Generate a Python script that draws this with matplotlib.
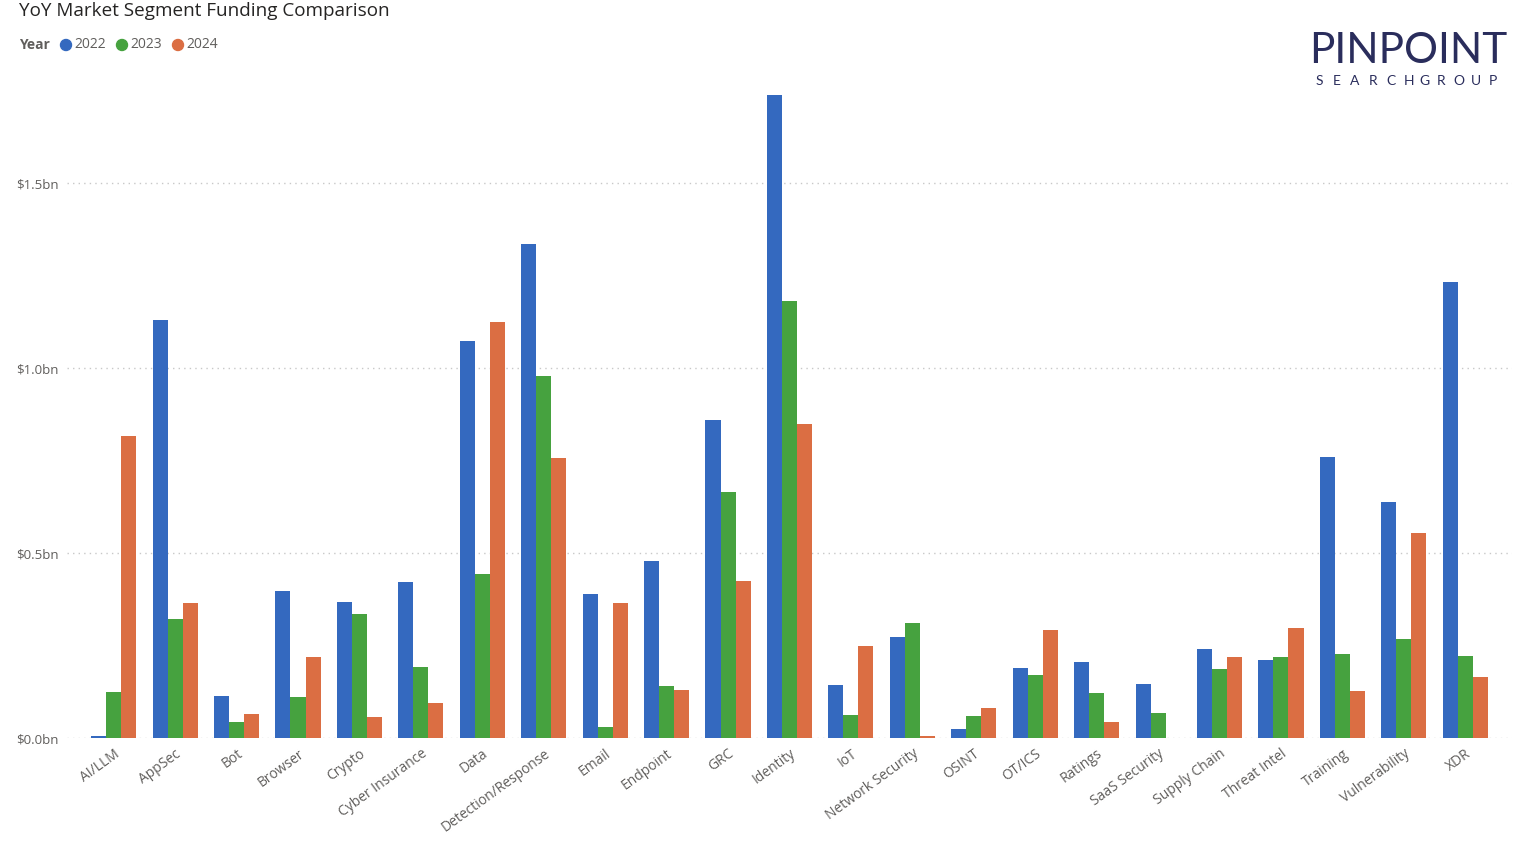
import numpy as np
import matplotlib
matplotlib.use('Agg')
import matplotlib.pyplot as plt

plt.rcParams['font.family'] = ['Open Sans', 'DejaVu Sans']

# 数据 (单位: 十亿美元)
segments = ['AI/LLM', 'AppSec', 'Bot', 'Browser', 'Crypto', 'Cyber Insurance', 'Data',
            'Detection/Response', 'Email', 'Endpoint', 'GRC', 'Identity', 'IoT',
            'Network Security', 'OSINT', 'OT/ICS', 'Ratings', 'SaaS Security',
            'Supply Chain', 'Threat Intel', 'Training', 'Vulnerability', 'XDR']
years = ['2022', '2023', '2024']
funding_2022 = [0.005, 1.130, 0.114, 0.397, 0.368, 0.422, 1.073, 1.335, 0.389, 0.478, 0.859,
                1.738, 0.143, 0.273, 0.024, 0.189, 0.205, 0.146, 0.241, 0.211, 0.759, 0.638, 1.232]
funding_2023 = [0.124, 0.322, 0.043, 0.111, 0.335, 0.192, 0.443, 0.978, 0.030, 0.141, 0.665,
                1.181, 0.062, 0.311, 0.059, 0.170, 0.122, 0.068, 0.186, 0.219, 0.227, 0.268, 0.222]
funding_2024 = [0.816, 0.365, 0.065, 0.219, 0.057, 0.095, 1.124, 0.757, 0.365, 0.130, 0.424,
                0.849, 0.249, 0.005, 0.081, 0.292, 0.043, 0.0, 0.219, 0.297, 0.127, 0.554, 0.165]
yticks = [0.0, 0.5, 1.0, 1.5]
ytick_labels = ['$0.0bn', '$0.5bn', '$1.0bn', '$1.5bn']

colors = ['#3469BF', '#46A23F', '#DB6E43']
text_gray = '#605E5C'
logo_navy = '#2A2D5C'

fig = plt.figure(figsize=(15.2, 8.52), dpi=100)
ax = fig.add_axes([0.0441, 0.1338, 0.9506, 0.778])

x = np.arange(len(segments))
w = 0.245
for i, (vals, c) in enumerate(zip([funding_2022, funding_2023, funding_2024], colors)):
    ax.bar(x + (i - 1) * w, vals, width=w, color=c, edgecolor='none', zorder=3)

ax.set_xlim(-0.76, len(segments) - 0.24)
ax.set_ylim(0, 1.792)
ax.set_yticks(yticks)
ax.set_yticklabels(ytick_labels, color=text_gray, fontsize=9.5)
ax.yaxis.grid(True, linestyle=(0, (1, 3)), color='#C8C8C8', linewidth=1, zorder=0)
ax.set_xticks(x)
ax.set_xticklabels(segments, rotation=36, ha='right', rotation_mode='anchor',
                   color=text_gray, fontsize=10)
ax.tick_params(axis='both', length=0, pad=6)
for s in ax.spines.values():
    s.set_visible(False)

# 标题与图例
fig.text(19 / 1520, 1 - 11 / 852, 'YoY Market Segment Funding Comparison',
         fontsize=13.6, color='#252423', va='center', ha='left')
fig.text(19 / 1520, 1 - 45 / 852, 'Year', fontsize=10, fontweight='bold',
         color=text_gray, va='center', ha='left')
lx = [66, 122, 178]
for xx, c, yr in zip(lx, colors, years):
    fig.patches.append(matplotlib.patches.Ellipse((xx / 1520, 1 - 45 / 852), 11 / 1520, 11 / 852,
                                                  transform=fig.transFigure, color=c))
    fig.text((xx + 8) / 1520, 1 - 45 / 852, yr, fontsize=10, color=text_gray,
             va='center', ha='left')

# logo
fig.text(1408 / 1520, 1 - 51 / 852, 'PINPOINT', fontsize=30.5, color=logo_navy,
         family=['Lato', 'DejaVu Sans'], va='center', ha='center')
for k, ch in enumerate('SEARCH'):
    fig.text((1319 + k * 18) / 1520, 1 - 81 / 852, ch, fontsize=10, color=logo_navy,
             family=['Lato', 'DejaVu Sans'], va='center', ha='center')
for k, ch in enumerate('GROUP'):
    fig.text((1424 + k * 17.3) / 1520, 1 - 81 / 852, ch, fontsize=10, color=logo_navy,
             family=['Lato', 'DejaVu Sans'], va='center', ha='center')

fig.savefig('out.png', dpi=100)
